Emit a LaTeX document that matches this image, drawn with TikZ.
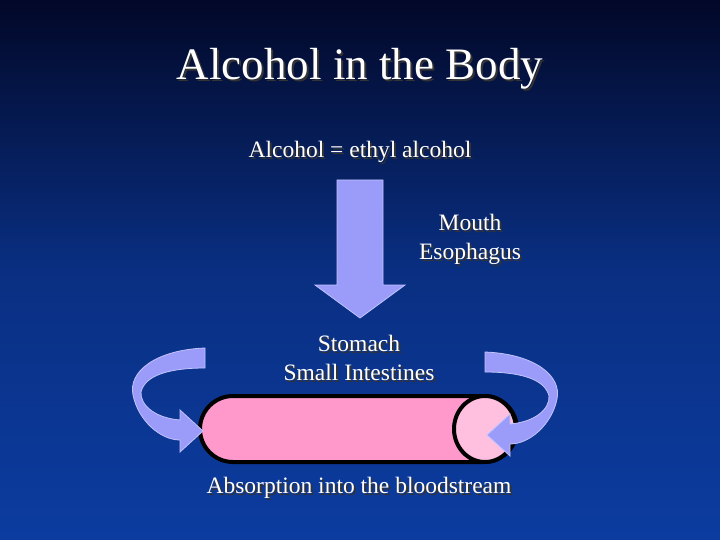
\documentclass[tikz,border=0pt]{standalone}
\usepackage{fontspec}
\setmainfont{Liberation Serif}
\begin{document}
\begin{tikzpicture}[x=1pt,y=-1pt,
  txt/.style={text=white,font=\fontsize{23.5}{29}\selectfont,align=center,inner sep=0pt},
  shd/.style={txt,text=black!80},
  arr/.style={fill=lav,draw=lav!60!white,line width=0.8pt}]
\definecolor{lav}{RGB}{155,155,250}
\definecolor{bgtop}{RGB}{2,8,40}
\definecolor{bgbot}{RGB}{12,60,160}
\shade[top color=bgtop,bottom color=bgbot,middle color=bgbot!75!bgtop] (0,0) rectangle (720,540);
\useasboundingbox (0,0) rectangle (720,540);
\node[shd,font=\fontsize{45}{50}\selectfont] at (362,71) {Alcohol in the Body};
\node[txt,font=\fontsize{45}{50}\selectfont] (title) at (360,69) {Alcohol in the Body};
\node[shd] at (362,154) {Alcohol = ethyl alcohol};
\node[txt] (def) at (360,152) {Alcohol = ethyl alcohol};
\path[arr] (337,180) -- (383,180) -- (383,285) -- (405,285) -- (360,318) -- (315,285) -- (337,285) -- cycle;
\node[shd] at (472,241) {Mouth\\Esophagus};
\node[txt] (mouth) at (470,239) {Mouth\\Esophagus};
\node[shd] at (361,360) {Stomach\\Small Intestines};
\node[txt] (stom) at (359,358) {Stomach\\Small Intestines};
\draw[line width=4pt,fill={rgb,255:red,255;green,153;blue,204},rounded corners=33pt] (200,396) rectangle (517,462);
\draw[line width=4pt,fill={rgb,255:red,255;green,192;blue,224}] (485,429) ellipse (31 and 33);
\node (tube) at (358,429) {};
\path[arr] (205,348) .. controls (155,350) and (128,372) .. (133,395) .. controls (138,420) and (160,440) .. (180,440) -- (180,452) -- (203,431) -- (180,410) -- (180,420) .. controls (155,418) and (140,405) .. (141,392) .. controls (145,375) and (170,368) .. (205,368) -- cycle;
\path[arr] (485,352) .. controls (535,354) and (562,376) .. (557,399) .. controls (552,424) and (530,444) .. (510,444) -- (510,456) -- (487,435) -- (510,414) -- (510,424) .. controls (535,422) and (550,409) .. (549,396) .. controls (545,379) and (520,372) .. (485,372) -- cycle;
\node[shd] at (361,490) {Absorption into the bloodstream};
\node[txt] (abs) at (359,488) {Absorption into the bloodstream};
\end{tikzpicture}
\end{document}
